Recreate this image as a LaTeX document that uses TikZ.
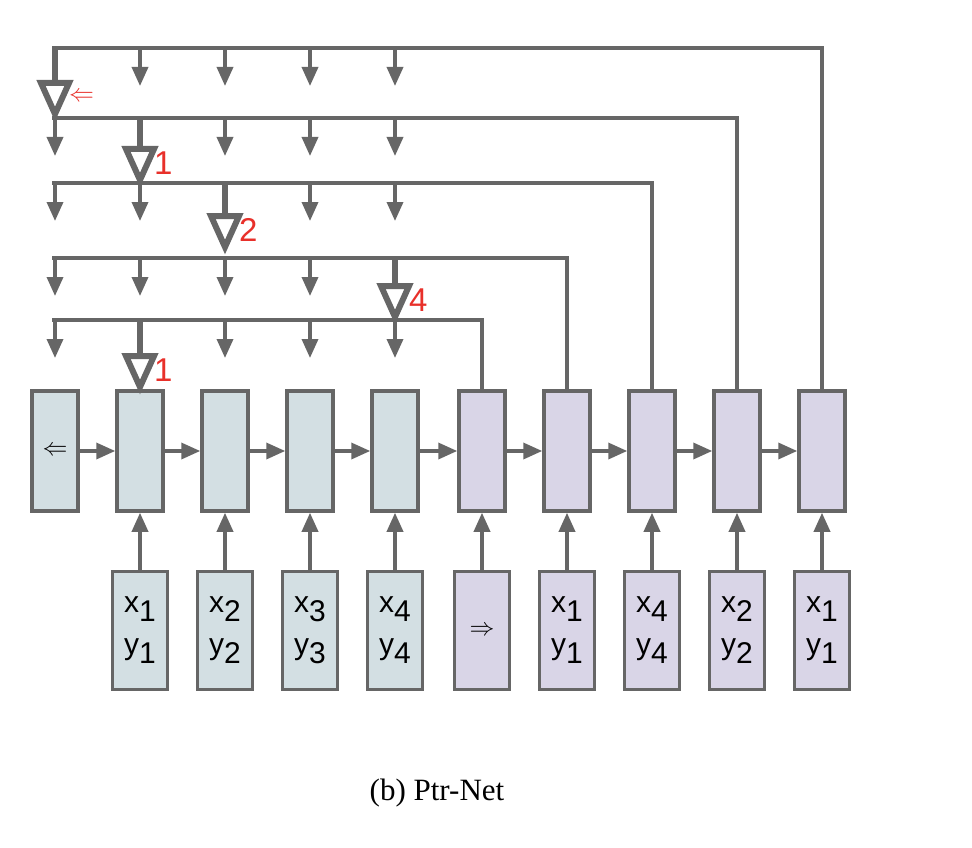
\documentclass[tikz,border=0pt]{standalone}
\usepackage{fontspec}
\setmainfont{Liberation Sans}
\newfontfamily\capfont{Liberation Serif}
\usetikzlibrary{arrows.meta}
\definecolor{ln}{HTML}{666666}
\definecolor{encf}{HTML}{D3DFE3}
\definecolor{decf}{HTML}{D9D5E7}
\definecolor{rd}{HTML}{E8302A}
\newcommand{\xy}[1]{x\raisebox{-9pt}{#1}\\y\raisebox{-9pt}{#1}}
\begin{document}
\begin{tikzpicture}[x=1pt,y=-1pt,
  hbox/.style={draw=ln,line width=3.5pt,minimum width=46pt,minimum height=120pt,inner sep=0pt},
  ibox/.style={draw=ln,line width=3.5pt,minimum width=55pt,minimum height=118pt,inner sep=0pt,align=center,font=\fontsize{30}{42}\selectfont},
  con/.style={draw=ln,line width=3.5pt,-{Triangle[width=16pt,length=19pt]}},
  wire/.style={draw=ln,line width=3.5pt},
  big/.style={draw=ln,line width=6pt},
  lab/.style={text=rd,font=\fontsize{33}{33}\selectfont,inner sep=0pt,anchor=west}]
\useasboundingbox (0,0) rectangle (972,848);
% top row
\foreach \i/\x/\c in {0/55/encf,1/140/encf,2/225/encf,3/310/encf,4/395/encf,5/482/decf,6/567/decf,7/652/decf,8/737/decf,9/822/decf}
  \node[hbox,fill=\c] (h\i) at (\x,451) {};
\node[font=\fontsize{46}{46}\selectfont] at (h0) {$\Leftarrow$};
\foreach \i/\j in {0/1,1/2,2/3,3/4,4/5,5/6,6/7,7/8,8/9}
  \draw[con] (h\i.east) -- (h\j.west);
% inputs
\foreach \i/\x/\c/\t in {1/140/encf/{\xy{1}},2/225/encf/{\xy{2}},3/310/encf/{\xy{3}},4/395/encf/{\xy{4}},5/482/decf/{\fontsize{46}{46}\selectfont$\Rightarrow$},6/567/decf/{\xy{1}},7/652/decf/{\xy{4}},8/737/decf/{\xy{2}},9/822/decf/{\xy{1}}}
{
  \node[ibox,fill=\c] (in\i) at (\x,630.5) {\t};
  \draw[con] (in\i.north) -- (h\i.south);
}
% feedback lines
\foreach \i/\yy in {5/320,6/258,7/183,8/118,9/48}{
  \coordinate (L\i) at (52,\yy);
  \draw[wire] (h\i.north) |- (L\i);
}
% small arrows
\foreach \i/\yy in {9/48,8/118,7/183,6/258,5/320}{
  \foreach \x in {55,140,225,310,395}{
    \coordinate (s\i\x) at (\x,\yy);
    \coordinate (e\i\x) at (\x,\yy+38);
  }
}
\foreach \u/\v in {s855/e855,s8225/e8225,s8310/e8310,s8395/e8395,
  s9140/e9140,s9225/e9225,s9310/e9310,s9395/e9395,
  s755/e755,s7140/e7140,s7310/e7310,s7395/e7395,
  s655/e655,s6140/e6140,s6225/e6225,s6310/e6310,
  s555/e555,s5225/e5225,s5310/e5310,s5395/e5395}
  \draw[con] (\u) -- (\v);
% big open-triangle pointers
\foreach \xx/\ya/\yb/\t in {55/48/117/{$\Leftarrow$},140/118/183/1,225/183/250/2,395/258/320/4,140/320/390/1}{
  \coordinate (bt) at (\xx,\ya);
  \coordinate (bm) at (\xx,\yb-34);
  \coordinate (bl) at (\xx-14,\yb-34);
  \coordinate (br) at (\xx+14,\yb-34);
  \coordinate (bb) at (\xx,\yb-3);
  \draw[big] (bt) -- (bm);
  \draw[big,fill=white,line join=miter] (bl) -- (br) -- (bb) -- cycle;
  \node[lab] at (\xx+14,\yb-20) {\t};
}
\node[font=\capfont\fontsize{31}{31}\selectfont] (cap) at (437,793) {(b) Ptr-Net};
\end{tikzpicture}
\end{document}
